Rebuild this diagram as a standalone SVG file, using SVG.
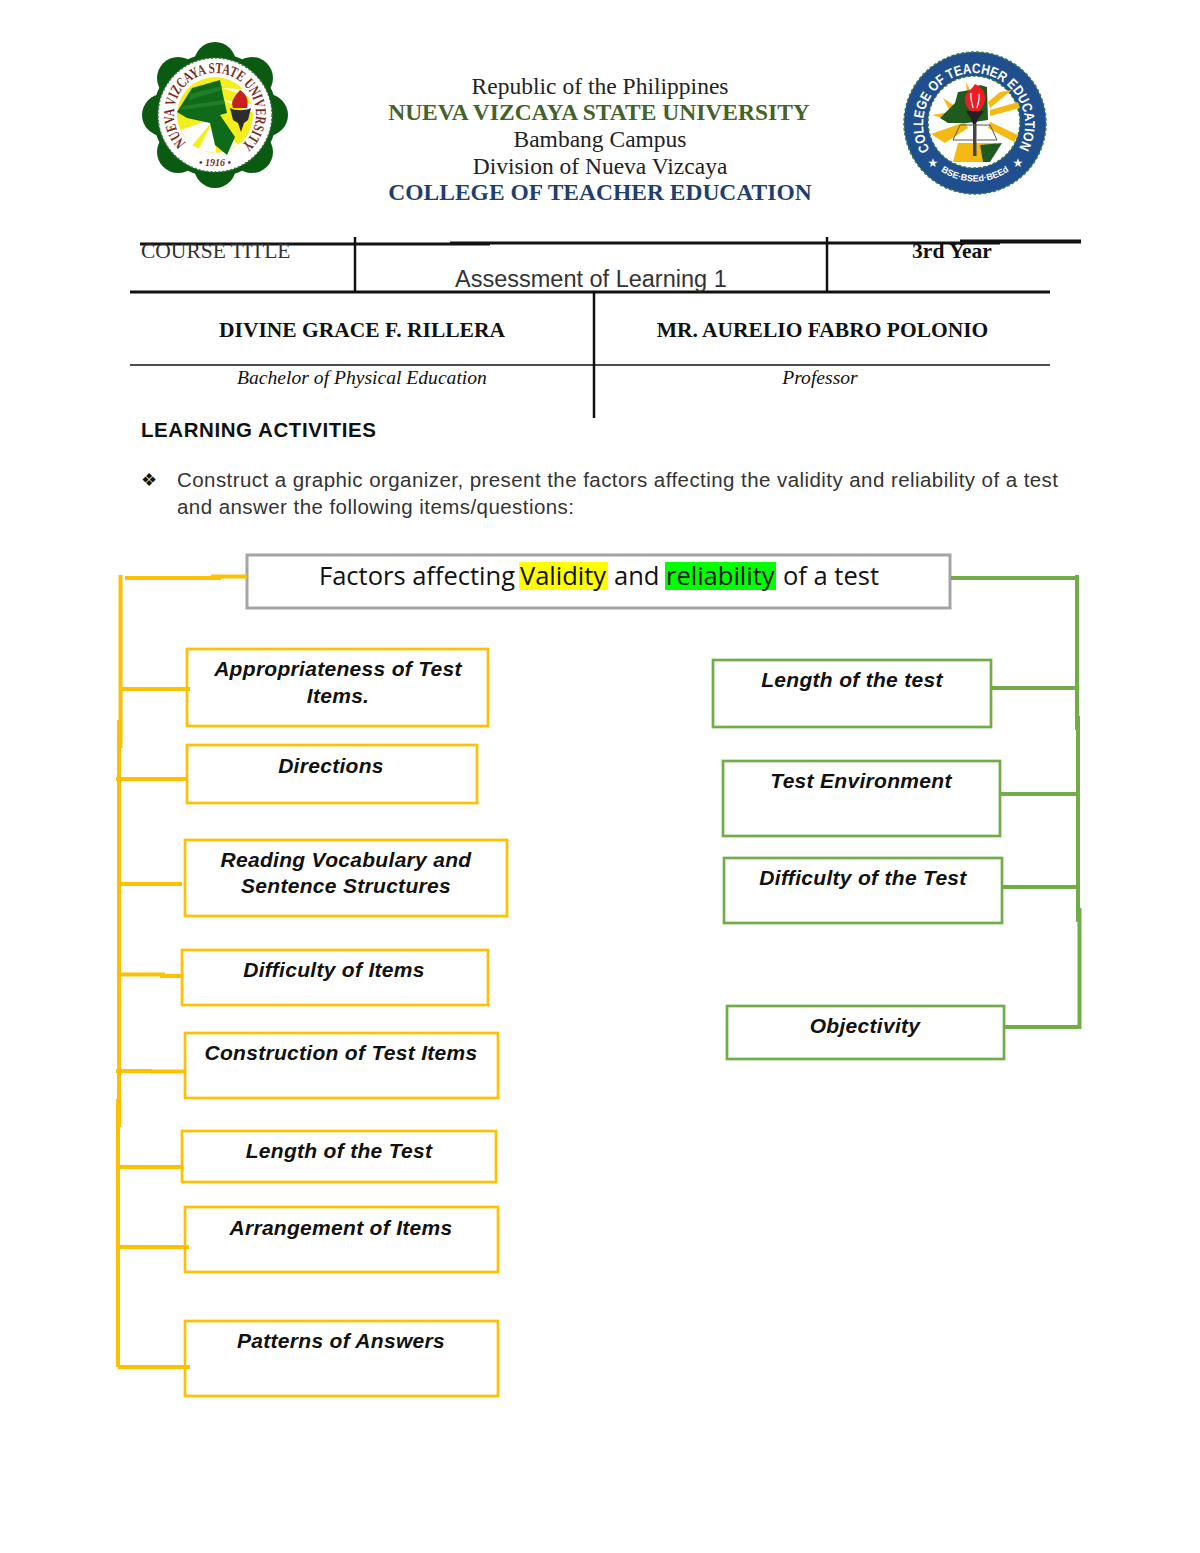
<svg xmlns="http://www.w3.org/2000/svg" width="1200" height="1553" viewBox="0 0 1200 1553">
<style>
text{font-family:"Liberation Sans",Arial,sans-serif;fill:#111}
.s{font-family:"Liberation Serif","Times New Roman",serif}
.hd{font-size:23.5px;text-anchor:middle;fill:#222}
.hb{font-size:23.5px;font-weight:bold;text-anchor:middle}
.nm{font-size:21.5px;font-weight:bold;text-anchor:middle}
.it{font-size:19.6px;font-style:italic;text-anchor:middle}
.bd{font-size:20.5px;fill:#333}
.n{font-size:21px;font-weight:bold;font-style:italic;text-anchor:middle;letter-spacing:.3px}
.y{fill:#fff;stroke:#ffc000;stroke-width:2.7}
.g{fill:#fff;stroke:#70ad47;stroke-width:2.7}
.yc{stroke:#ffc000;stroke-width:4;fill:none}
.gc{stroke:#70ad47;stroke-width:4;fill:none}
.k{stroke:#111;fill:none}
.ray{fill:#f5b914}
</style>
<defs>
<path id="tA" d="M186 143A41 41 0 1 1 244 143"/>
<path id="tB" d="M930 150A51 51 0 1 1 1018 150"/>
<path id="tC" d="M941 171A60 60 0 0 0 1009 171"/>
</defs>
<g id="logo-nvsu">
<g fill="#0a5a12">
<circle cx="215" cy="115" r="62"/>
<circle cx="215" cy="63" r="21"/><circle cx="252" cy="78" r="21"/><circle cx="267" cy="115" r="21"/><circle cx="252" cy="152" r="21"/><circle cx="215" cy="167" r="21"/><circle cx="178" cy="152" r="21"/><circle cx="163" cy="115" r="21"/><circle cx="178" cy="78" r="21"/>
</g>
<circle cx="215" cy="115" r="57" fill="#fff" stroke="#46704a" stroke-width="1.5" stroke-dasharray="2 2"/>
<circle cx="215" cy="115" r="38" fill="#f4ee1a"/>
<path fill="#fff" d="M180 130L215 118 190 148 178 124zM198 150L215 118 216 153zM224 152L215 118 238 145zM222 88L260 100 258 90zM222 100L260 115 262 105z"/>
<path fill="#0f6b1a" d="M192 88L220 80 223 95 227 113 220 115 235 137 227 155 215 145 210 123 187 118 177 112z"/>
<path fill="#2a8a30" opacity=".6" d="M190 94L222 86 222 90 189 100zM183 106L224 100 225 104 181 110z"/>
<path fill="#c8201c" d="M240 90c6 4 9 9 7 18h-14c-3-7 2-12 7-18z"/>
<path fill="#2d2d2d" d="M230 108c5 3 15 3 21 0l-3 12-4 3-3 9-3-9-5-3z"/>
<text font-size="15" font-weight="bold" class="s" style="fill:#7a2a1c" textLength="196" lengthAdjust="spacingAndGlyphs"><textPath href="#tA">NUEVA VIZCAYA STATE UNIVERSITY</textPath></text>
<text x="215" y="166" font-size="10" font-weight="bold" font-style="italic" class="s" text-anchor="middle" style="fill:#7a2a1c">• 1916 •</text>
</g>
<g id="logo-cte">
<circle cx="975" cy="123" r="71" fill="#1f4f8f" stroke="#3f7a4a" stroke-width="1.5" stroke-dasharray="3 2"/>
<circle cx="974" cy="122" r="46" fill="#fff" stroke="#2f7a3a" stroke-width="1.5" stroke-dasharray="3 2"/>
<path class="ray" d="M932 115L950 112 948 120zM931 134L965 122 968 128 945 143zM943 98L955 106 950 111zM966 82L971 92 967 93zM1000 92L1012 90 990 108 988 102zM990 110L1018 102 1020 108 990 116zM990 122L1018 135 1014 142 988 128z"/>
<path fill="#f5b914" d="M958 143H997L983 162H953z"/>
<path fill="#1f5a1e" d="M940 118L955 103 958 92 970 90 980 85 987 87 988 120 967 123 948 123zM980 145L1002 143 990 162 983 162z"/>
<path fill="#ee1c25" d="M975 84c7 3 11 9 10 16-1 6-4 9-6 11h-8c-4-3-7-8-6-14 1-5 6-6 10-13z"/>
<path fill="none" stroke="#fff" stroke-width="1.3" d="M971 93c-1 5 1 9 2 15M979 94c1 5-1 9-2 14"/>
<path fill="#222" d="M966 111H984L978 119 976 124H973L971 119z"/>
<rect x="973" y="124" width="3.500" height="32" fill="#444"/>
<path d="M960 125L953 140H973M990 125L997 140H977M960 125H990" fill="none" stroke="#555" stroke-width="1"/>
<text font-size="14" font-weight="bold" style="fill:#fff" textLength="212" lengthAdjust="spacingAndGlyphs"><textPath href="#tB">COLLEGE OF TEACHER EDUCATION</textPath></text>
<text x="933" y="167" font-size="12" style="fill:#fff;font-family:'DejaVu Sans',sans-serif" text-anchor="middle">★</text>
<text x="1018" y="167" font-size="12" style="fill:#fff;font-family:'DejaVu Sans',sans-serif" text-anchor="middle">★</text>
<text font-size="9" font-weight="bold" style="fill:#fff" text-anchor="middle"><textPath href="#tC" startOffset="50%">BSE·BSEd·BEEd</textPath></text>
</g>
<g id="header">
<text x="600" y="94" class="s hd" textLength="257">Republic of the Philippines</text>
<text x="599" y="120" class="s hb" style="fill:#44632a">NUEVA VIZCAYA STATE UNIVERSITY</text>
<text x="600" y="147" class="s hd">Bambang Campus</text>
<text x="600" y="174" class="s hd">Division of Nueva Vizcaya</text>
<text x="600" y="200" class="s hb" style="fill:#1f3f6e">COLLEGE OF TEACHER EDUCATION</text>
</g>
<g id="course-table">
<path class="k" stroke-width="3" d="M140 244H490M450 243H830M827 243H1000"/>
<path class="k" stroke-width="4" d="M960 241.500H1081"/>
<path class="k" stroke-width="3" d="M130 292H1050"/>
<path class="k" stroke-width="2.500" d="M355 237V292M827 237V292M594 292V418"/>
<path class="k" stroke-width="1.500" d="M130 365H1050"/>
<text x="141" y="258" class="s" font-size="21.500" style="fill:#333">COURSE TITLE</text>
<text x="455" y="287" font-size="23.500" style="fill:#333">Assessment of Learning 1</text>
<text x="952" y="258" class="s" font-size="21.500" font-weight="bold" text-anchor="middle">3rd Year</text>
<text x="362" y="337" class="s nm">DIVINE GRACE F. RILLERA</text>
<text x="822.500" y="337" class="s nm">MR. AURELIO FABRO POLONIO</text>
<text x="362" y="384" class="s it">Bachelor of Physical Education</text>
<text x="820" y="384" class="s it">Professor</text>
</g>
<g id="instructions">
<text x="141" y="437" font-size="20.500" font-weight="bold" textLength="235">LEARNING ACTIVITIES</text>
<text x="141" y="486" font-size="18" style="font-family:'DejaVu Sans',sans-serif">❖</text>
<text x="177" y="487" class="bd" textLength="881">Construct a graphic organizer, present the factors affecting the validity and reliability of a test</text>
<text x="177" y="514" class="bd" textLength="397">and answer the following items/questions:</text>
</g>
<g id="title"><rect x="247" y="555" width="703" height="53" fill="#fff" stroke="#a5a5a5" stroke-width="3"/>
<rect x="519" y="562" width="89" height="28" fill="#ff0"/><rect x="665" y="562" width="111" height="28" fill="#0f0"/>
<text y="585" font-size="25.500" style="font-family:'Open Sans','Noto Sans',sans-serif"><tspan x="319">Factors affecting</tspan><tspan x="520">Validity</tspan><tspan x="614">and</tspan><tspan x="666">reliability</tspan><tspan x="783">of a test</tspan></text></g>
<g id="y1"><rect class="y" x="187" y="649" width="301" height="77"/><text class="n" x="338" y="676">Appropriateness of Test</text><text class="n" x="338" y="703">Items.</text></g>
<g id="y2"><rect class="y" x="187" y="745" width="290" height="58"/><text class="n" x="331" y="773">Directions</text></g>
<g id="y3"><rect class="y" x="185" y="840" width="322" height="76"/><text class="n" x="346" y="867">Reading Vocabulary and</text><text class="n" x="346" y="893">Sentence Structures</text></g>
<g id="y4"><rect class="y" x="182" y="950" width="306" height="55"/><text class="n" x="334" y="977">Difficulty of Items</text></g>
<g id="y5"><rect class="y" x="185" y="1033" width="313" height="65"/><text class="n" x="341" y="1060">Construction of Test Items</text></g>
<g id="y6"><rect class="y" x="182" y="1131" width="314" height="51"/><text class="n" x="339" y="1158">Length of the Test</text></g>
<g id="y7"><rect class="y" x="185" y="1207" width="313" height="65"/><text class="n" x="341" y="1235">Arrangement of Items</text></g>
<g id="y8"><rect class="y" x="185" y="1321" width="313" height="75"/><text class="n" x="341" y="1348">Patterns of Answers</text></g>
<g id="g1"><rect class="g" x="713" y="660" width="278" height="67"/><text class="n" x="852" y="687">Length of the test</text></g>
<g id="g2"><rect class="g" x="723" y="761" width="277" height="75"/><text class="n" x="861" y="788">Test Environment</text></g>
<g id="g3"><rect class="g" x="724" y="858" width="278" height="65"/><text class="n" x="863" y="885">Difficulty of the Test</text></g>
<g id="g4"><rect class="g" x="727" y="1006" width="277" height="53"/><text class="n" x="865" y="1033">Objectivity</text></g>
<g id="connectors">
<path class="yc" d="M120.500 575V748M119 720V1127M118 1099V1367M125 578H221M211 576.500H247M120 689H190M116 779H187M119 884H182M119 974.500H165M160 976H182M116 1071H152M151 1071.500H185M118 1167H182M118 1247H189M118 1367H190"/>
<path class="gc" d="M951 578H1077M1077 575V730M1078 716V922M1079.500 908V1029M1004 1027H1079M992 688H1077M1000 794H1077M1003 887H1078"/>
</g>
</svg>
